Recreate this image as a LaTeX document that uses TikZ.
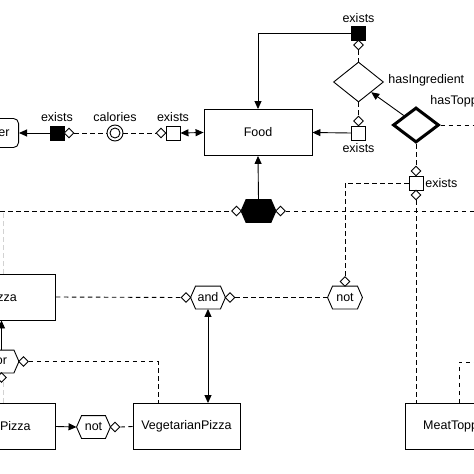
\documentclass[tikz,border=0pt]{standalone}
\usepackage{fontspec}
\setmainfont{Liberation Sans}
\usetikzlibrary{arrows.meta,shapes.geometric,calc}
\newcommand\hexpath[2][]{\draw[#1] (#2.west) -- ([xshift=5pt]#2.north west) -- ([xshift=-5pt]#2.north east) -- (#2.east) -- ([xshift=-5pt]#2.south east) -- ([xshift=5pt]#2.south west) -- cycle;}
\begin{document}
\begin{tikzpicture}[x=1pt,y=-1pt, line width=0.9pt,
  every node/.style={font=\fontsize{12.5}{14}\selectfont},
  cls/.style={draw, fill=white, rectangle, minimum width=108pt, minimum height=46pt, inner sep=0},
  sq/.style={draw, rectangle, minimum size=14pt, inner sep=0},
  blk/.style={sq, fill=black},
  wht/.style={sq, fill=white},
  sdia/.style={draw, diamond, fill=white, inner sep=0, minimum width=10pt, minimum height=10pt},
  hexn/.style={inner sep=0, minimum width=34pt, minimum height=22pt},
  dsh/.style={dash pattern=on 4.5pt off 3.5pt},
  arr/.style={-{Triangle[length=8pt,width=7pt]}},
  darr/.style={{Triangle[length=8pt,width=7pt]}-{Triangle[length=8pt,width=7pt]}},
  lbl/.style={inner sep=0},
]
\useasboundingbox (0,0) rectangle (474,474);
\fill[white] (0,0) rectangle (474,474);
\clip (0,0) rectangle (474,474);

% faint cut-off line at left edge
\draw[dsh, gray!35] (3.5,213) -- (3.5,274);
\draw[dsh, gray!35] (3.5,382) -- (3.5,404);

% coordinates at the picture edge
\coordinate (e1) at (474,125);
\coordinate (e2) at (474,362);
\coordinate (e3) at (0,211);
\coordinate (e4) at (474,211);

% Food and top part
\node[cls] (food) at (258,132.5) {Food};
\node[blk] (ex1) at (358.5,33) {};
\node[lbl] at (358.5,18) {exists};
\node[sdia] (d1) at (358.5,45) {};
\node[draw, diamond, inner sep=0, minimum width=50pt, minimum height=40pt] (hi) at (358.5,82) {};
\node[lbl, anchor=west] at (388,80) {hasIngredient};
\node[sdia] (d2) at (358.5,121) {};
\node[wht] (ex2) at (358.5,133) {};
\node[lbl] at (358.5,148) {exists};
\node[draw, diamond, line width=3pt, inner sep=0, minimum width=46pt, minimum height=35pt] (ht) at (416,125) {};
\node[lbl, anchor=west] at (430,101) {hasTopping};
\node[sdia] (d3) at (416,171) {};
\node[wht] (ex3) at (416,183) {};
\node[lbl, anchor=west] at (425,183) {exists};
\node[sdia] (d4) at (416,195) {};
\node[cls] (mt) at (459,426.5) {MeatTopping};

% not (right)
\node[hexn] (nr) at (345,297.5) {not}; \hexpath{nr}
\node[sdia] (d5) at (345,281.5) {};

% black hexagon
\node[hexn] (bh) at (258.5,211) {}; \hexpath[fill=black]{bh}
\node[sdia] (d6) at (236.5,211) {};
\node[sdia] (d7) at (280.5,211) {};

% left chain
\node[draw, rounded corners=5pt, fill=white, minimum height=29pt, inner xsep=9pt, anchor=east] (int) at (19,133) {xsd:integer};
\node[blk] (ex4) at (57,133) {};
\node[lbl] at (57,117) {exists};
\node[sdia] (d8) at (69,133) {};
\node[circle, draw, minimum size=16pt, inner sep=0] (cal) at (115,133) {};
\draw (cal.center) circle (5pt);
\node[lbl] at (115,117) {calories};
\node[sdia] (d9) at (161,133) {};
\node[wht] (ex5) at (173,133) {};
\node[lbl] at (173,117) {exists};

% lower part
\node[cls] (pz) at (1.5,297) {Pizza};
\node[hexn] (andh) at (208,297.5) {and}; \hexpath{andh}
\node[sdia] (da1) at (186,297.5) {};
\node[sdia] (da2) at (230,297.5) {};
\node[hexn] (orh) at (1.5,361.5) {or}; \hexpath{orh}
\node[sdia] (do1) at (23.5,361.5) {};
\node[sdia] (do2) at (1.5,377.5) {};
\node[cls] (mp) at (1.5,426.5) {MeatPizza};
\node[hexn, minimum width=33pt] (nl) at (93.5,427) {not}; \hexpath{nl}
\node[sdia] (dn) at (115,427) {};
\node[cls, minimum width=107pt] (vp) at (186.5,426.5) {VegetarianPizza};

% connectors
\draw[arr] (ex1.west) -| (food.north);
\draw[dsh] (d1.south) -- (hi.north);
\draw[dsh] (hi.south) -- (d2.north);
\draw[arr] (ex2.west) -- (food.east);
\draw[arr] (ht.north west) -- (hi.south east);
\draw[dsh] (ht.east) -- (e1);
\draw[dsh] (ht.south) -- (d3.north);
\draw[dsh] (d4.south) -- (d4.south |- mt.north);
\draw[dsh] (mt.north) |- (e2);
\draw[dsh] (ex3.west) -| (d5.north);
\draw[dsh] (e3) -- (d6.west);
\draw[dsh] (d7.east) -- (e4);
\draw[arr] (bh.north) -- (food.south);
\draw[arr] (ex4.west) -- (int.east);
\draw[dsh] (d8.east) -- (cal.west);
\draw[dsh] (cal.east) -- (d9.west);
\draw[darr] (ex5.east) -- (food.west);
\draw[dsh] (pz.east) -- (da1.west);
\draw[dsh] (da2.east) -- (nr.west);
\draw[darr] (andh.south) -- (andh.south |- vp.north);
\draw[arr] (orh.north) -- (pz.south);
\draw[dsh] (do1.east) -| ([xshift=-28.5pt]vp.north);
\draw[arr] (mp.east) -- (nl.west);
\draw[dsh] (dn.east) -- (vp.west);
\end{tikzpicture}
\end{document}
